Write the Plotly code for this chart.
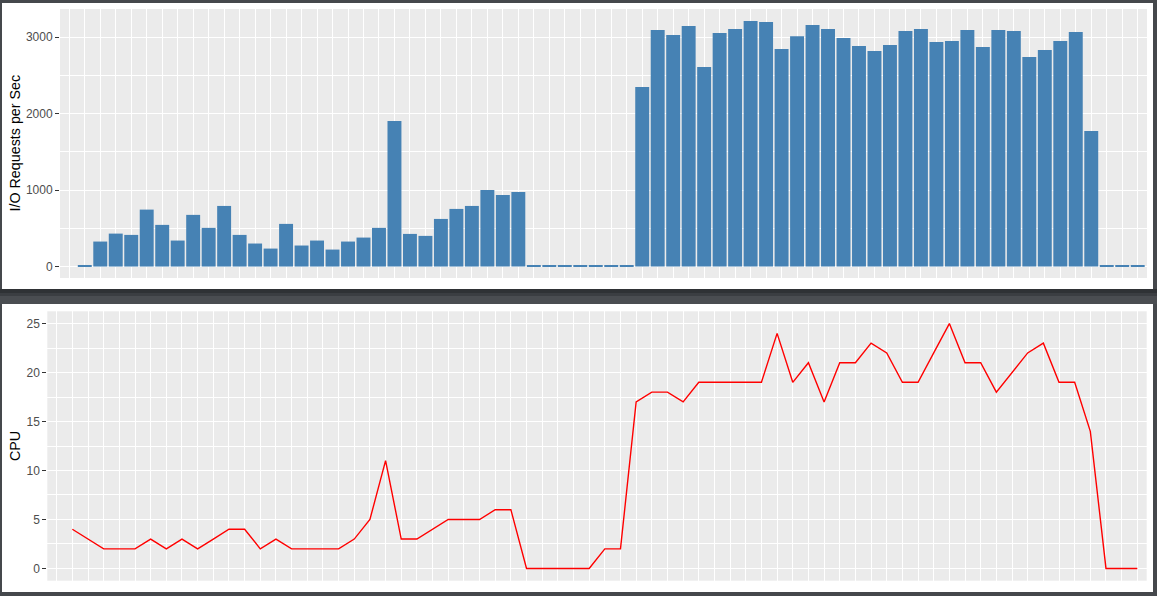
import plotly.graph_objects as go

# time slots 1..70 (x labels are not readable in the source)
slots = list(range(1, 71))

io_requests = [None, 12, 327, 431, 414, 745, 545, 340, 676, 506,
               793, 414, 301, 235, 558, 275, 340, 222, 327, 379,
               506, 1905, 427, 401, 623, 754, 793, 1003, 937, 976,
               12, 12, 12, 12, 12, 12, 12, 2349, 3094, 3029,
               3146, 2610, 3055, 3107, 3212, 3199, 2846, 3015, 3159, 3107,
               2990, 2885, 2820, 2898, 3081, 3107, 2937, 2950, 3094, 2872,
               3094, 3081, 2741, 2833, 2950, 3068, 1774, 12, 12, 12]

cpu = [None, 4, 3, 2, 2, 2, 3, 2, 3, 2,
       3, 4, 4, 2, 3, 2, 2, 2, 2, 3,
       5, 11, 3, 3, 4, 5, 5, 5, 6, 6,
       0, 0, 0, 0, 0, 2, 2, 17, 18, 18,
       17, 19, 19, 19, 19, 19, 24, 19, 21, 17,
       21, 21, 23, 22, 19, 19, 22, 25, 21, 21,
       18, 20, 22, 23, 19, 19, 14, 0, 0, 0]

W, H = 1157, 596
PANEL_BG = '#EBEBEB'
FRAME = '#45484c'


def px_x(v):
    return v / W


def px_y(v):
    return 1 - v / H


fig = go.Figure()

fig.add_trace(go.Bar(x=slots, y=io_requests, marker=dict(color='#4682B4', line=dict(width=0)),
                     xaxis='x', yaxis='y', showlegend=False))
fig.add_trace(go.Scatter(x=slots, y=cpu, mode='lines', line=dict(color='#FF0000', width=1.4),
                         xaxis='x2', yaxis='y2', showlegend=False))

xcommon = dict(tickmode='linear', tick0=1, dtick=1, showticklabels=False, ticks='',
               showgrid=True, gridcolor='white', gridwidth=1.1, zeroline=False,
               showline=False, range=[0.4, 70.6], fixedrange=True)
ycommon = dict(showgrid=True, gridcolor='white', gridwidth=1.2, zeroline=False, showline=False,
               ticks='outside', ticklen=4, tickwidth=1, tickcolor='#333333',
               tickfont=dict(family='Liberation Sans, Arial', size=12, color='#4D4D4D'))

fig.update_layout(
    width=W, height=H,
    margin=dict(l=0, r=0, t=0, b=0),
    paper_bgcolor='white',
    plot_bgcolor=PANEL_BG,
    bargap=0.1,
    xaxis=dict(**xcommon, domain=[px_x(60), px_x(1147)], anchor='y'),
    yaxis=dict(**ycommon, domain=[px_y(278), px_y(9)], anchor='x',
               range=[-150, 3370], tickvals=[0, 1000, 2000, 3000],
               minor=dict(tickvals=[500, 1500, 2500], showgrid=True, gridcolor='white',
                          gridwidth=0.6, ticks='')),
    xaxis2=dict(**xcommon, domain=[px_x(47.3), px_x(1146.7)], anchor='y2'),
    yaxis2=dict(**ycommon, domain=[px_y(580.7), px_y(311.3)], anchor='x2',
                range=[-1.25, 26.25], tickvals=[0, 5, 10, 15, 20, 25],
                minor=dict(tickvals=[2.5, 7.5, 12.5, 17.5, 22.5], showgrid=True,
                           gridcolor='white', gridwidth=0.6, ticks='')),
)

# dark window frame around and between the two panels
frame_rects = [
    (0, 0, W, 3, FRAME),
    (0, 0, 2, H, FRAME),
    (1153, 0, W, H, FRAME),
    (0, 592, W, H, FRAME),
    (0, 289, W, 304, '#4a4d51'),
    (0, 289, W, 293, '#2f3235'),
    (0, 293, W, 296, '#3b3e42'),
]
for x0, y0, x1, y1, c in frame_rects:
    fig.add_shape(type='rect', xref='paper', yref='paper',
                  x0=px_x(x0), x1=px_x(x1), y0=px_y(y1), y1=px_y(y0),
                  fillcolor=c, line=dict(width=0), layer='above')

title_font = dict(family='Liberation Sans, Arial', size=14.3, color='black')
fig.add_annotation(text='I/O Requests per Sec', textangle=-90, xref='paper', yref='paper',
                   x=px_x(15), y=px_y(143.5), xanchor='center', yanchor='middle',
                   showarrow=False, font=title_font)
fig.add_annotation(text='CPU', textangle=-90, xref='paper', yref='paper',
                   x=px_x(15), y=px_y(446), xanchor='center', yanchor='middle',
                   showarrow=False, font=title_font)

# drop the default page margin so the figure fills the window exactly
fig.write_html("out.html", config={'displayModeBar': False},
               post_script="document.body.style.margin='0';document.body.style.overflow='hidden';")
